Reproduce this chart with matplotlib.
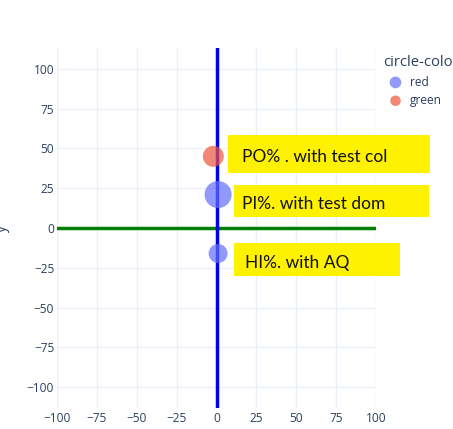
import matplotlib.pyplot as plt
from matplotlib.patches import Rectangle

# points, grouped by the "circle-color" column
groups = ['red', 'green']
group_colors = {'red': '#636efa', 'green': '#ef553b'}
pt_x = {'red': [1, 1], 'green': [-2]}
pt_y = {'red': [21, -16], 'green': [45]}
pt_size = {'red': [378, 187], 'green': [228]}

# yellow labels: text, text anchor, box corners (data units)
labels = ['PO% . with test col', 'PI%. with test dom', 'HI%. with AQ']
label_x = [16.3, 16.3, 17.6]
label_y = [44.6, 15.1, -22.0]
box_x0 = [7.5, 10.7, 10.7]
box_x1 = [134.0, 133.5, 115.3]
box_y0 = [34.5, 6.9, -30.1]
box_y1 = [58.4, 27.0, -9.4]

ticks = [-100, -75, -50, -25, 0, 25, 50, 75, 100]

plt.rcParams['font.family'] = ['Open Sans', 'DejaVu Sans']
fig = plt.figure(figsize=(4.53, 4.29), dpi=100)
ax = fig.add_axes([57 / 453, 21 / 429, 319 / 453, 360 / 429])
ax.set_xlim(-100, 100)
ax.set_ylim(-113, 113)
ax.set_xticks(ticks)
ax.set_yticks(ticks)
ax.set_xticklabels([str(t).replace('-', '\u2212') for t in ticks])
ax.set_yticklabels([str(t).replace('-', '\u2212') for t in ticks])
ax.grid(color='#ebf0f8', lw=1)
ax.set_axisbelow(True)
for s in ax.spines.values():
    s.set_visible(False)
ax.tick_params(length=0, colors='#2a3f5f', labelsize=8.6)
ax.tick_params(axis='y', pad=2)
ax.tick_params(axis='x', pad=3)

ax.axhline(0, color='green', lw=2.5, zorder=2)
ax.axvline(0, color='#0000ee', lw=2.5, zorder=3)

for g in groups:
    ax.scatter(pt_x[g], pt_y[g], s=pt_size[g], color=group_colors[g], alpha=0.7,
               edgecolors='none', label=g, zorder=4)

for i, txt in enumerate(labels):
    ax.add_patch(Rectangle((box_x0[i], box_y0[i]), box_x1[i] - box_x0[i], box_y1[i] - box_y0[i],
                           facecolor='#fff200', edgecolor='none', clip_on=False, zorder=5))
    ax.text(label_x[i], label_y[i], txt, fontsize=12.5, color='#111111', va='center', ha='left',
            zorder=6, clip_on=False, family=['Lato', 'DejaVu Sans'])

fig.text(0.005, (429 - 228) / 429, 'y', rotation=90, fontsize=10, color='#2a3f5f',
         va='center', ha='center')

leg = ax.legend(title='circle-color', loc='upper left', bbox_to_anchor=(0.99, 1.01), frameon=False,
                fontsize=8.6, title_fontsize=10.6, handletextpad=0.2, markerscale=0.5,
                labelspacing=0.45)
leg._legend_box.align = 'left'
for t in leg.get_texts():
    t.set_color('#2a3f5f')
leg.get_title().set_color('#2a3f5f')

fig.savefig('out.png', dpi=100)
